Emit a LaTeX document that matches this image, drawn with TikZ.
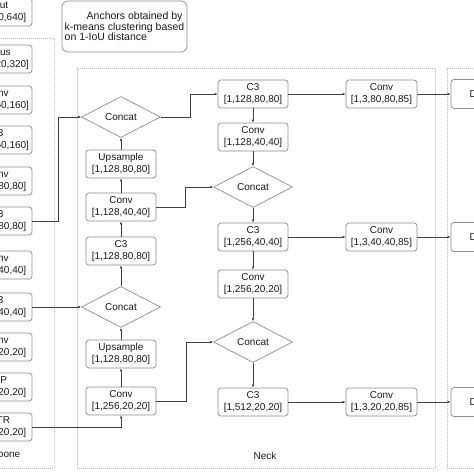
\documentclass[tikz,border=0pt]{standalone}
\usepackage{fontspec}
\setmainfont{Liberation Sans}
\usetikzlibrary{shapes.geometric,arrows.meta}

\begin{document}
\begin{tikzpicture}[x=1pt,y=-1pt,
    font=\fontsize{10}{11.5}\selectfont,
    box/.style={draw=black!45,line width=0.7pt,rounded corners=3pt,minimum width=70pt,minimum height=28pt,inner sep=1pt,align=center,text=black!90},
    cat/.style={diamond,draw=black!45,line width=0.7pt,aspect=1.9,minimum width=79pt,minimum height=41pt,inner sep=0pt,text=black!90},
    region/.style={draw=black!28,line width=0.6pt,dash pattern=on 1pt off 1pt},
    link/.style={draw=black!75,line width=0.5pt,-{Latex[length=3pt,width=2.4pt]}}]
    \useasboundingbox (0,0) rectangle (474,474);
    \clip (0,0) rectangle (474,474);

    % Dotted regions
    \draw[region] (-60,38) rectangle (54,468);
    \draw[region] (77,68) rectangle (435,468);
    \draw[region] (447,68) rectangle (560,468);

    % Backbone
    \node[box] (bin) at (-3,12) {Input\\{}[1,3,640,640]};
    \node[box] (bfocus) at (-3,59) {Focus\\{}[1,32,320,320]};
    \node[box] (bconv1) at (-3,100) {Conv\\{}[1,64,160,160]};
    \node[box] (bc3a) at (-3,140) {C3\\{}[1,64,160,160]};
    \node[box] (bconv2) at (-3,181) {Conv\\{}[1,128,80,80]};
    \node[box] (bc3b) at (-3,221) {C3\\{}[1,128,80,80]};
    \node[box] (bconv3) at (-3,265) {Conv\\{}[1,256,40,40]};
    \node[box] (bc3c) at (-3,307) {C3\\{}[1,256,40,40]};
    \node[box] (bconv4) at (-3,347) {Conv\\{}[1,512,20,20]};
    \node[box] (bspp) at (-3,387) {SPP\\{}[1,512,20,20]};
    \node[box] (bc3tr) at (-3,427) {C3TR\\{}[1,512,20,20]};
    \node[text=black!90] (btitle) at (-2,454) {Backbone};

    % Anchors note
    \node[draw=black!45,line width=0.7pt,rounded corners=6pt,minimum width=125pt,minimum height=51pt,
          align=left,inner sep=2pt,text=black!90,font=\fontsize{10.5}{10.6}\selectfont] (anchors) at (124.5,26.5)
          {\hspace*{22pt}Anchors obtained by\\k-means clustering based\\on 1-IoU distance};

    % Neck, upward path
    \node[cat] (ncat1) at (121,117) {Concat};
    \node[box] (nup1) at (121,164) {Upsample\\{}[1,128,80,80]};
    \node[box] (nconv1) at (121,207) {Conv\\{}[1,128,40,40]};
    \node[box] (nc3a) at (121,251) {C3\\{}[1,128,80,80]};
    \node[cat] (ncat2) at (121,307) {Concat};
    \node[box] (nup2) at (121,354) {Upsample\\{}[1,128,80,80]};
    \node[box] (nconv2) at (121,401) {Conv\\{}[1,256,20,20]};

    % Neck, downward path
    \node[box] (nc3b) at (253,94) {C3\\{}[1,128,80,80]};
    \node[box] (nconv3) at (253,137) {Conv\\{}[1,128,40,40]};
    \node[cat] (ncat3) at (253,187) {Concat};
    \node[box] (nc3c) at (253,237) {C3\\{}[1,256,40,40]};
    \node[box] (nconv4) at (253,284) {Conv\\{}[1,256,20,20]};
    \node[cat] (ncat4) at (253,342) {Concat};
    \node[box] (nc3d) at (253,402) {C3\\{}[1,512,20,20]};

    % Output convs
    \node[box,minimum width=71pt] (hconv1) at (381.5,94) {Conv\\{}[1,3,80,80,85]};
    \node[box,minimum width=71pt] (hconv2) at (381.5,237) {Conv\\{}[1,3,40,40,85]};
    \node[box,minimum width=71pt] (hconv3) at (381.5,402) {Conv\\{}[1,3,20,20,85]};
    \node[text=black!90] (ntitle) at (265,456) {Neck};

    % Detect
    \node[box,minimum width=66pt,minimum height=29pt] (det1) at (484,94) {Detect};
    \node[box,minimum width=66pt,minimum height=29pt] (det2) at (484,237) {Detect};
    \node[box,minimum width=66pt,minimum height=29pt] (det3) at (484,402) {Detect};

    % Backbone to neck
    \draw[link] (bc3tr.east) -| (nconv2.south);
    \draw[link] (bc3c.east) -- (ncat2.west);
    \draw[link] (bc3b.east) -- ++(26,0) |- (ncat1.west);

    % Up the neck
    \draw[link] (nconv2) -- (nup2);
    \draw[link] (nup2) -- (ncat2);
    \draw[link] (ncat2) -- (nc3a);
    \draw[link] (nc3a) -- (nconv1);
    \draw[link] (nconv1) -- (nup1);
    \draw[link] (nup1) -- (ncat1);

    % Across
    \draw[link] (ncat1.east) -- ++(29,0) |- (nc3b.west);
    \draw[link] (nconv1.east) -- ++(29,0) |- (ncat3.west);
    \draw[link] (nconv2.east) -- ++(30,0) |- (ncat4.west);

    % Down the neck
    \draw[link] (nc3b) -- (nconv3);
    \draw[link] (nconv3) -- (ncat3);
    \draw[link] (ncat3) -- (nc3c);
    \draw[link] (nc3c) -- (nconv4);
    \draw[link] (nconv4) -- (ncat4);
    \draw[link] (ncat4) -- (nc3d);

    % To the heads
    \draw[link] (nc3b) -- (hconv1);
    \draw[link] (nc3c) -- (hconv2);
    \draw[link] (nc3d) -- (hconv3);
    \draw[link] (hconv1) -- (det1);
    \draw[link] (hconv2) -- (det2);
    \draw[link] (hconv3) -- (det3);
\end{tikzpicture}
\end{document}
